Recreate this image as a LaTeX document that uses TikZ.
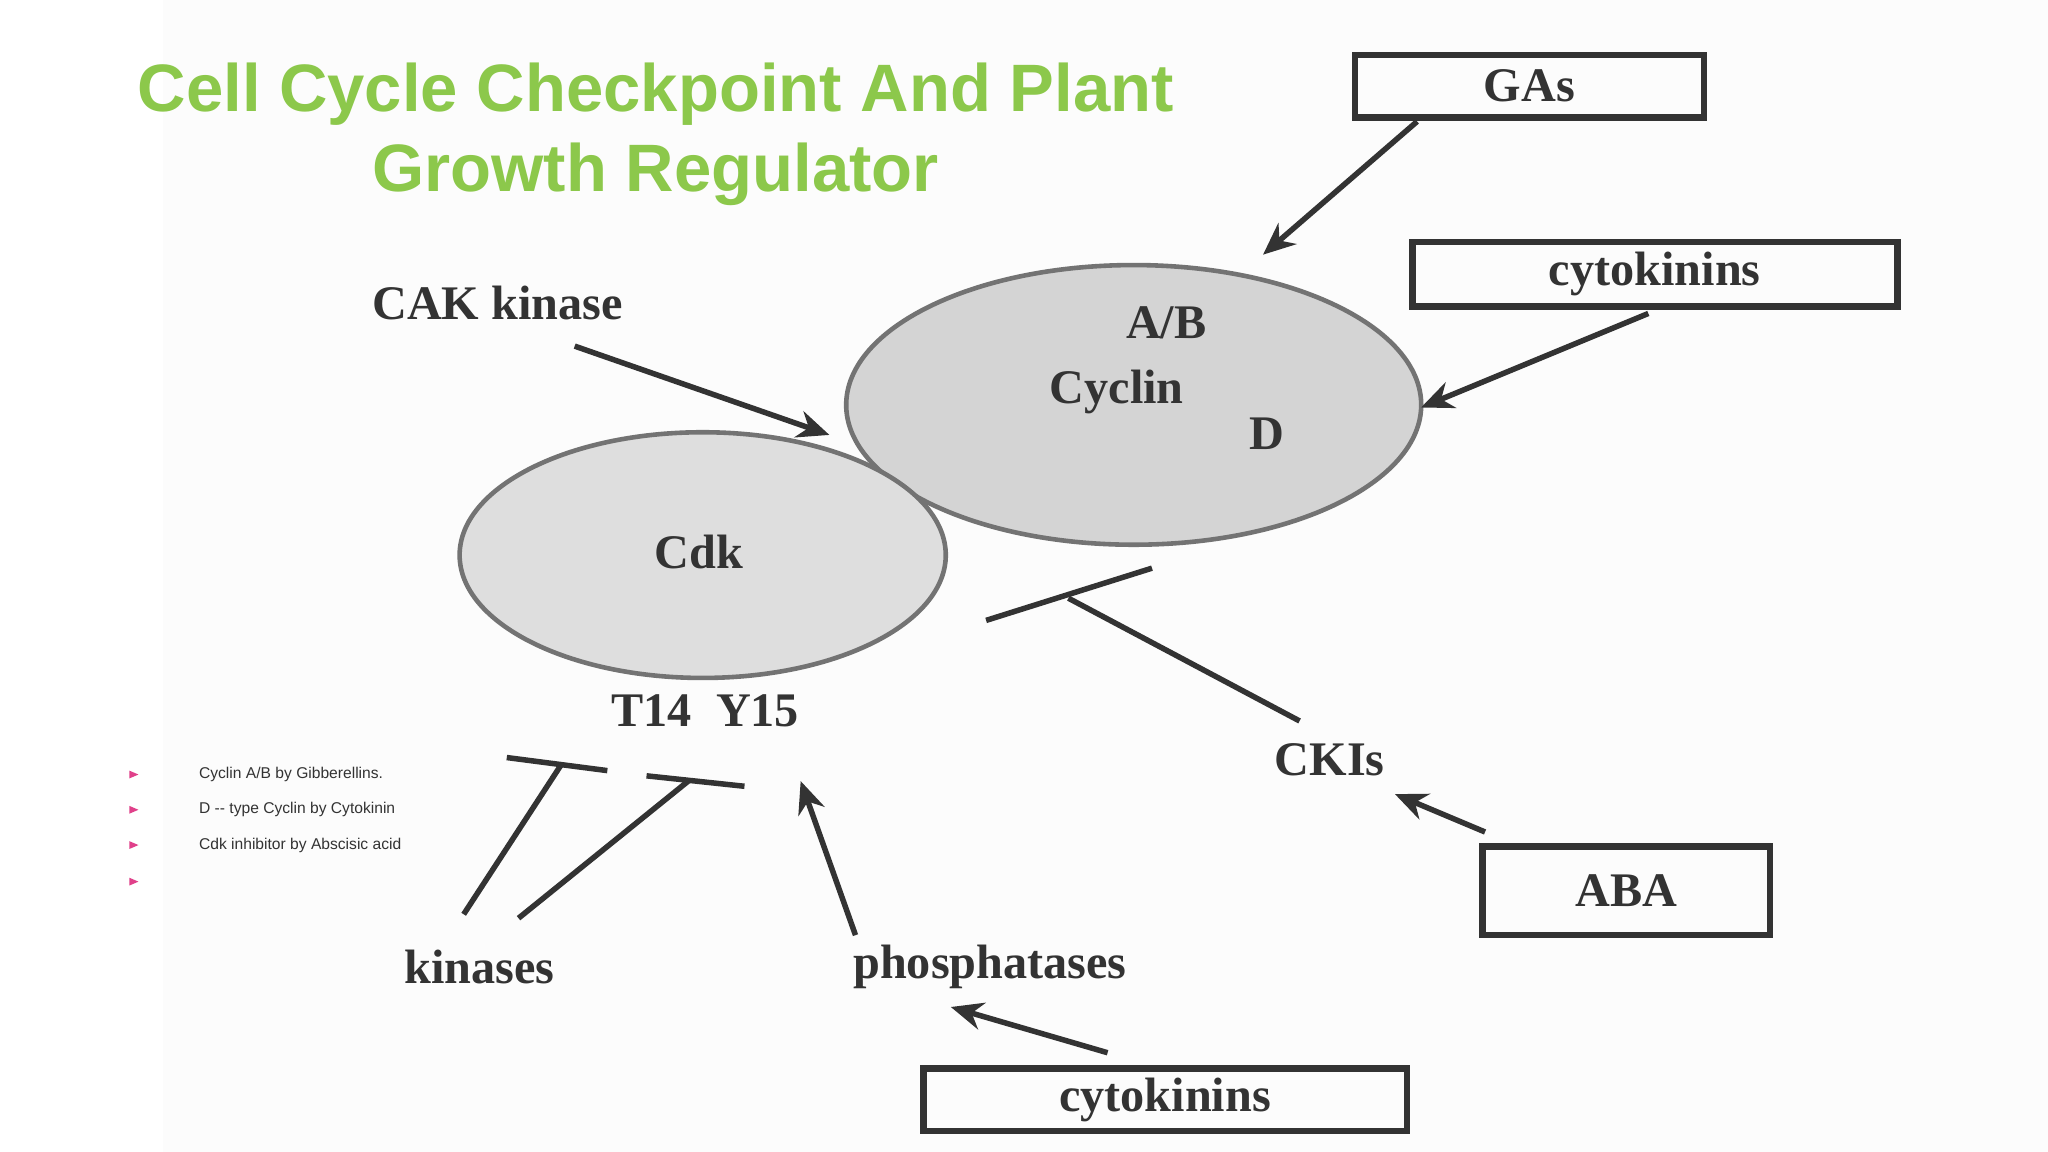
\documentclass[tikz,border=0pt]{standalone}
\usepackage{fontspec}
\setmainfont{Liberation Serif}
\newfontfamily\sansf{Liberation Sans}
\usetikzlibrary{arrows.meta,shapes.geometric}
\definecolor{ttl}{HTML}{8CC84B}
\definecolor{ink}{HTML}{333333}
\definecolor{pinkb}{HTML}{E0408A}
\tikzset{
 lbl/.style={font=\fontsize{10.5pt}{12pt}\selectfont\bfseries, text=ink},
 bx/.style={draw=ink, line width=1.4pt, minimum height=0.48cm, inner sep=0pt},
 ar/.style={draw=ink, line width=1.2pt, -{Stealth[length=7pt,width=6pt]}},
 inh/.style={draw=ink, line width=1.2pt},
 bul/.style={font=\sansf\fontsize{3.4pt}{4pt}\selectfont, anchor=west, text=ink}
}
\begin{document}
\begin{tikzpicture}[x=0.01cm,y=-0.01cm]
\useasboundingbox (0,0) rectangle (1568,882);
\fill[white] (0,0) rectangle (1568,882);
\fill[black!1] (125,0) rectangle (1568,882);
\node[font=\sansf\bfseries\fontsize{14.6pt}{17.5pt}\selectfont, text=ttl, align=center] (title) at (502,103) {Cell Cycle Checkpoint And Plant\\Growth Regulator};
% boxes
\node[bx, minimum width=2.67cm, minimum height=0.48cm, lbl] (gas) at (1171,66) {GAs};
\node[bx, minimum width=3.71cm, minimum height=0.49cm, lbl] (cyt1) at (1267,210) {cytokinins};
\node[bx, minimum width=2.2cm, minimum height=0.68cm, lbl] (aba) at (1245,682) {ABA};
\node[bx, minimum width=3.7cm, minimum height=0.48cm, lbl] (cyt2) at (892,842) {cytokinins};
% circles
\node[draw=black!55, line width=1pt, fill=black!17, ellipse, minimum width=4.4cm, minimum height=2.14cm] (cyc) at (868,310) {};
\node[draw=black!55, line width=1pt, fill=black!13, minimum width=3.72cm, minimum height=1.88cm, ellipse] (cdk) at (538,425) {};
\node[lbl] (ab) at (893,247) {A/B};
\node[lbl] (cyclin) at (855,300) {Cyclin};
\node[lbl] (d) at (970,332) {D};
\node[lbl] (cdkt) at (535,423) {Cdk};
\node[lbl] (cak) at (381,232) {CAK kinase};
\node[lbl] (ty) at (540,544) {T14\ \ Y15};
\node[lbl] (ckis) at (1018,582) {CKIs};
\node[lbl] (kin) at (367,740) {kinases};
\node[lbl] (pho) at (758,740) {phosphatases};
% coordinates
\coordinate (g1) at (1085,93); \coordinate (g2) at (967,195);
\coordinate (c1) at (1262,240); \coordinate (c2) at (1088,312);
\coordinate (k1) at (440,265); \coordinate (k2) at (635,333);
\coordinate (a1) at (1137,637); \coordinate (a2) at (1068,608);
\coordinate (b1) at (848,806); \coordinate (b2) at (728,771);
\coordinate (p1) at (655,716); \coordinate (p2) at (613,598);
\coordinate (i1) at (995,552); \coordinate (i2) at (818,458);
\coordinate (ib1) at (755,475); \coordinate (ib2) at (882,435);
\coordinate (ka1) at (355,700); \coordinate (ka2) at (430,585);
\coordinate (kb1) at (388,580); \coordinate (kb2) at (465,590);
\coordinate (kc1) at (397,703); \coordinate (kc2) at (527,598);
\coordinate (kd1) at (495,594); \coordinate (kd2) at (570,602);
\draw[ar] (g1) -- (g2);
\draw[ar] (c1) -- (c2);
\draw[ar] (k1) -- (k2);
\draw[ar] (a1) -- (a2);
\draw[ar] (b1) -- (b2);
\draw[ar] (p1) -- (p2);
\draw[inh] (i1) -- (i2); \draw[inh] (ib1) -- (ib2);
\draw[inh] (ka1) -- (ka2); \draw[inh] (kb1) -- (kb2);
\draw[inh] (kc1) -- (kc2); \draw[inh] (kd1) -- (kd2);
% bullets
\foreach \yy/\t [count=\i] in {593/{Cyclin A/B by Gibberellins.},620/{D -- type Cyclin by Cytokinin},647/{Cdk inhibitor by Abscisic acid},675/{}}{
 \fill[pinkb] (99,\yy-3) -- (106,\yy) -- (99,\yy+3) -- cycle;
 \node[bul] (bt\i) at (140,\yy) {\t};
}
\end{tikzpicture}
\end{document}
